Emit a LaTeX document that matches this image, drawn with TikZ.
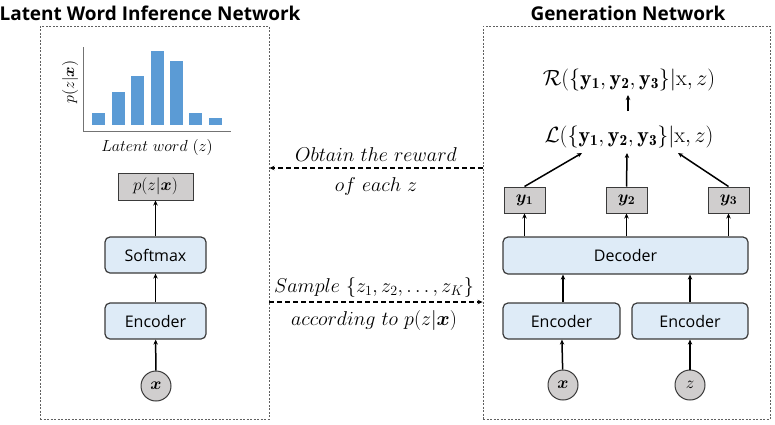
\documentclass[tikz,border=0pt]{standalone}
\usepackage{fix-cm}
\usepackage{amsmath,amssymb,bm}
\usepackage{fontspec}
\setsansfont{Open Sans}
\usetikzlibrary{arrows.meta}
\definecolor{boxblue}{HTML}{DEEBF7}
\definecolor{boxedge}{HTML}{3A3A3A}
\definecolor{grayfill}{HTML}{D0CECE}
\definecolor{barblue}{HTML}{5B9BD5}
\definecolor{dashgray}{HTML}{606060}
\begin{document}
\begin{tikzpicture}[x=1pt,y=-1pt,
  title/.style={font=\sffamily\bfseries\fontsize{19}{22}\selectfont},
  dbox/.style={draw=dashgray,line width=0.9pt,dash pattern=on 2pt off 1.5pt},
  bluebox/.style={draw=boxedge,fill=boxblue,rounded corners=5pt,line width=1.2pt,font=\sffamily\fontsize{16}{19}\selectfont},
  graybox/.style={draw=boxedge,fill=grayfill,line width=1pt,font=\fontsize{17}{19}\selectfont},
  circ/.style={circle,draw=boxedge,fill=grayfill,line width=1pt,minimum size=30pt,inner sep=0pt,font=\fontsize{17}{19}\selectfont},
  arr/.style={-{Stealth[length=5pt,width=4.5pt]},line width=1.5pt},
  darr/.style={-{Stealth[length=5pt,width=4.5pt]},line width=1.3pt,dash pattern=on 5pt off 3pt},
  lbl/.style={font=\fontsize{20}{23}\selectfont,inner sep=0pt},
  formula/.style={font=\fontsize{22}{25}\selectfont,inner sep=0pt}
]
\useasboundingbox (0,0) rectangle (775,424);
% titles
\node[title] (t1) at (150,13) {Latent Word Inference Network};
\node[title] (t2) at (628,13) {Generation Network};
% dashed frames
\node[dbox,minimum width=229pt,minimum height=393pt,inner sep=0pt] (lb) at (154.5,222.5) {};
\node[dbox,minimum width=287pt,minimum height=393pt,inner sep=0pt] (rb) at (626.5,222.5) {};
% histogram
\draw[line width=0.8pt,black!55] (83,47) -- (83,131) -- (231,131);
\foreach \xa/\ht in {92/113,112/92,131/76,151/51,170/61,189/113,209/118}{
  \fill[barblue] (\xa,125) rectangle (\xa+13,\ht);
}
\node[rotate=90,font=\fontsize{16}{18}\selectfont] (ylab) at (70,82) {$p(z|\bm{x})$};
\node[font=\fontsize{16}{18}\selectfont] (xlab) at (157,147) {$Latent\ word\ (z)$};
% left network
\node[graybox,minimum width=75pt,minimum height=27pt,inner sep=0pt] (pz) at (155.5,186.5) {$p(z|\bm{x})$};
\node[bluebox,minimum width=101pt,minimum height=36pt] (sm) at (155.5,255) {Softmax};
\node[bluebox,minimum width=101pt,minimum height=36pt] (enc1) at (155.5,321) {Encoder};
\node[circ] (xc) at (156,386) {$\bm{x}$};
\draw[arr] (xc) -- (enc1);
\draw[arr] (enc1) -- (sm);
\draw[arr] (sm) -- (pz);
% right network
\node[formula] (R) at (629,80) {$\mathcal{R}(\{\mathbf{y_1},\mathbf{y_2},\mathbf{y_3}\}|\mathrm{x},z)$};
\node[formula] (L) at (629,137) {$\mathcal{L}(\{\mathbf{y_1},\mathbf{y_2},\mathbf{y_3}\}|\mathrm{x},z)$};
\node[graybox,minimum width=41pt,minimum height=26pt,inner sep=0pt] (y1) at (524.5,200) {$\bm{y}_{\bm 1}$};
\node[graybox,minimum width=41pt,minimum height=26pt,inner sep=0pt] (y2) at (626.5,200) {$\bm{y}_{\bm 2}$};
\node[graybox,minimum width=41pt,minimum height=26pt,inner sep=0pt] (y3) at (728.5,200) {$\bm{y}_{\bm 3}$};
\node[bluebox,minimum width=245pt,minimum height=37pt] (dec) at (625.5,255.5) {Decoder};
\node[bluebox,minimum width=117pt,minimum height=36pt] (enc2) at (561.5,321) {Encoder};
\node[bluebox,minimum width=116pt,minimum height=36pt] (enc3) at (690,321) {Encoder};
\node[circ] (xc2) at (563,385) {$\bm{x}$};
\node[circ] (zc) at (690,385) {$z$};
\coordinate (la) at (582,153);
\coordinate (lc) at (627,153);
\coordinate (lr) at (678,153);
\coordinate (rl) at (628,111);
\coordinate (rr) at (628,95);
\draw[arr] (xc2) -- (enc2);
\draw[arr] (zc) -- (enc3);
\draw[arr] (enc2.north -| xc2) -- (dec.south -| xc2);
\draw[arr] (enc3.north -| zc) -- (dec.south -| zc);
\draw[arr] (dec.north -| y1) -- (y1.south);
\draw[arr] (dec.north -| y2) -- (y2.south);
\draw[arr] (dec.north -| y3) -- (y3.south);
\draw[arr] (y1.north) -- (la);
\draw[arr] (y2.north) -- (lc);
\draw[arr] (y3.north) -- (lr);
\draw[arr] (rl) -- (rr);
% middle arrows
\coordinate (m1) at (0,168);
\coordinate (m2) at (0,302);
\draw[darr] (rb.west |- m1) -- (lb.east |- m1);
\draw[darr] (lb.east |- m2) -- (rb.west |- m2);
\node[lbl] (o1) at (376,155) {$Obtain\ the\ reward$};
\node[lbl] (o2) at (376,186) {$of\ each\ z$};
\node[lbl] (s1) at (374,287) {$Sample\ \{z_1,z_2,\ldots,z_K\}$};
\node[lbl] (s2) at (374,320) {$according\ to\ p(z|\bm{x})$};
\end{tikzpicture}
\end{document}
